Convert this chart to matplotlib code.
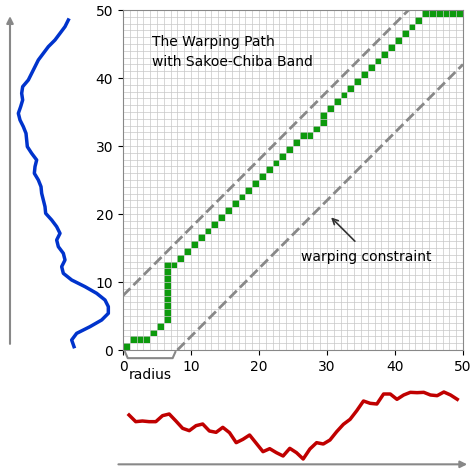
import numpy as np
import matplotlib
matplotlib.use("Agg")
import matplotlib.pyplot as plt

# warping path cells (x, y)
path_x = [0,1,2,3,4,5,6,6,6,6,6,6,6,6,6,7] + list(range(8,27)) + [27,28,29,29] + list(range(30,45)) + [45,46,47,48,49]
path_y = [0,1,1,1,2,3,4,5,6,7,8,9,10,11,12,12] + list(range(13,32)) + [31,32,33,34] + list(range(35,50)) + [49,49,49,49,49]
radius = 8
n = 50

# query series (blue, vertical, bottom->top)
blue_top_down = [205,195,180,165,145,130,115,105,95,85,68,65,68,62,55,60,70,78,80,82,95,110,105,103,115,123,125,130,135,137,155,170,180,170,175,190,195,185,190,215,255,290,315,325,325,305,270,230,215,222]
blue = blue_top_down[::-1]
# reference series (red, horizontal)
red_screen = [135,155,153,155,155,137,132,153,175,182,167,162,183,187,172,188,218,208,195,220,245,236,248,258,235,248,267,237,218,222,210,185,163,148,122,93,100,102,72,72,88,75,67,68,67,75,77,66,75,88]
red = [-v for v in red_screen]

fig = plt.figure(figsize=(4.74, 4.74), dpi=100)
ax = fig.add_axes([123/474, 1-350/474, 340/474, 340/474])
grid = np.zeros((n, n))
for x, y in zip(path_x, path_y):
    grid[y, x] = 1
ax.pcolormesh(np.arange(n+1), np.arange(n+1), np.ma.masked_equal(grid, 0),
              cmap=matplotlib.colors.ListedColormap(['#0d9a0d']), zorder=1)
for v in range(n+1):
    ax.axvline(v, color='#c8c8c8', lw=0.5, zorder=2)
    ax.axhline(v, color='#c8c8c8', lw=0.5, zorder=2)
ax.plot([0, n-radius], [radius, n], ls='--', color='#888888', lw=2, zorder=3)
ax.plot([radius, n], [0, n-radius], ls='--', color='#888888', lw=2, zorder=3)
ax.set_xlim(0, n); ax.set_ylim(0, n)
ax.set_xticks(range(0, 51, 10)); ax.set_yticks(range(0, 51, 10))
ax.tick_params(labelsize=10)
for s in ax.spines.values():
    s.set_color('#888888')
ax.text(4.3, 46.3, "The Warping Path\nwith Sakoe-Chiba Band", fontsize=10, va='top',
        linespacing=1.55, zorder=4)
ax.annotate("", xy=(30.6, 19.5), xytext=(34.1, 16.0), zorder=4,
            arrowprops=dict(arrowstyle='->', color='#333333', lw=1.2, shrinkA=0, shrinkB=0))
ax.text(26.2, 13.7, "warping constraint", fontsize=10, ha='left', va='center', zorder=4)
# radius bracket
ax.plot([0.3, 0.7, 7.3, 7.7], [-0.3, -1.2, -1.2, -0.3], color='#888888', lw=1.5, clip_on=False)
ax.text(4, -3.7, "radius", ha='center', va='center', fontsize=10)

# left series
axl = fig.add_axes([0, 1-350/474, 120/474, 340/474])
axl.plot(blue, np.arange(n), color='#0033cc', lw=2.5)
axl.set_xlim(0, 360)
axl.set_ylim(-0.5, n + 0.5)
axl.annotate('', xy=(30, n), xytext=(30, 0), arrowprops=dict(arrowstyle='-|>', color='#888888', lw=1.5))
axl.axis('off')

# bottom series
axb = fig.add_axes([110/474, 0, 364/474, 104/474])
axb.plot(np.arange(n), red, color='#c00000', lw=2.5)
axb.set_xlim(-2.84, 51.5)
axb.set_ylim(-312, 0)
axb.annotate('', xy=(50.9, -283), xytext=(-2.0, -283), arrowprops=dict(arrowstyle='-|>', color='#888888', lw=1.5))
axb.axis('off')

fig.savefig("out.png", dpi=100)
